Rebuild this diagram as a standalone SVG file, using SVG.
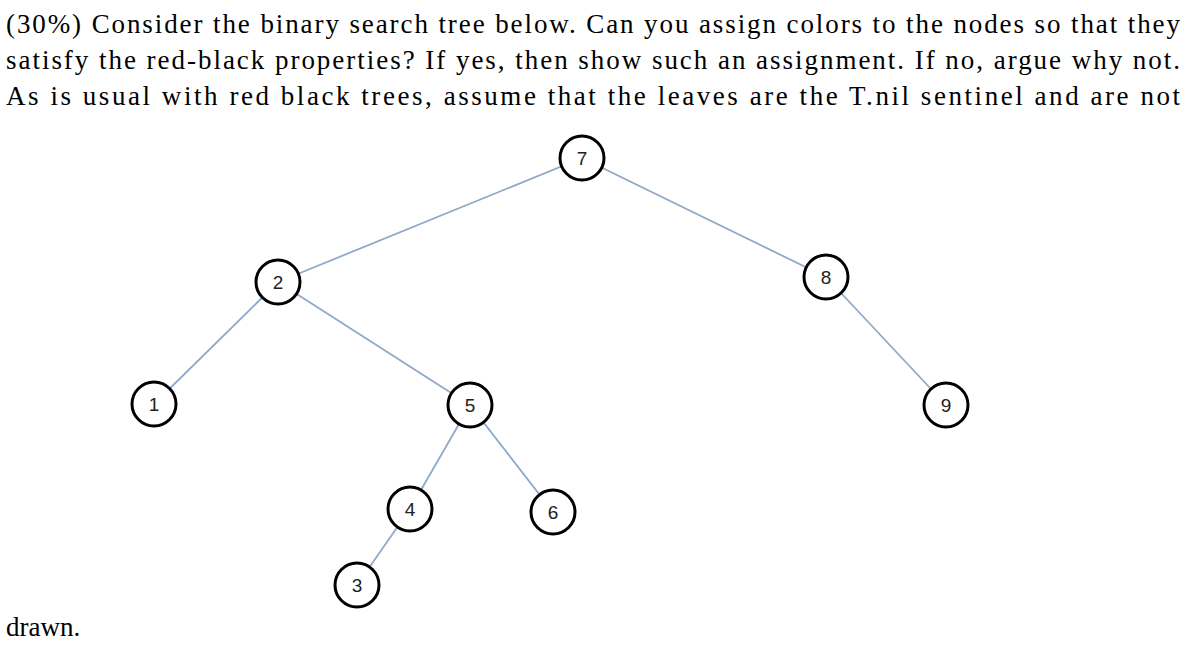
<svg xmlns="http://www.w3.org/2000/svg" width="1204" height="654" viewBox="0 0 1204 654">
<style>
.t{font-family:"Liberation Serif",serif;font-size:27px;fill:#000}
.n circle{fill:#fff;stroke:#000;stroke-width:3}
.n text{font-family:"Liberation Sans",sans-serif;font-size:19px;text-anchor:middle;fill:#222}
.e line{stroke:#8fa9c8;stroke-width:1.8}
</style>
<rect width="1204" height="654" fill="#fff"/>
<text class="t" x="6" y="33" textLength="1174" lengthAdjust="spacing">(30%) Consider the binary search tree below. Can you assign colors to the nodes so that they</text>
<text class="t" x="6" y="69" textLength="1174" lengthAdjust="spacing">satisfy the red-black properties? If yes, then show such an assignment. If no, argue why not.</text>
<text class="t" x="6" y="105" textLength="1174" lengthAdjust="spacing">As is usual with red black trees, assume that the leaves are the T.nil sentinel and are not</text>
<text class="t" x="6" y="636">drawn.</text>
<g id="edges" class="e">
<line x1="582" y1="158" x2="278" y2="282"/>
<line x1="582" y1="158" x2="826" y2="277"/>
<line x1="278" y1="282" x2="154" y2="404"/>
<line x1="278" y1="282" x2="470" y2="405"/>
<line x1="826" y1="277" x2="946" y2="405"/>
<line x1="470" y1="405" x2="410" y2="509"/>
<line x1="470" y1="405" x2="553" y2="512"/>
<line x1="410" y1="509" x2="357" y2="585"/>
</g>
<g id="n7" class="n"><circle cx="582" cy="158" r="22"/><text x="582" y="165">7</text></g>
<g id="n2" class="n"><circle cx="278" cy="282" r="22"/><text x="278" y="289">2</text></g>
<g id="n8" class="n"><circle cx="826" cy="277" r="22"/><text x="826" y="284">8</text></g>
<g id="n1" class="n"><circle cx="154" cy="404" r="22"/><text x="154" y="411">1</text></g>
<g id="n5" class="n"><circle cx="470" cy="405" r="22"/><text x="470" y="412">5</text></g>
<g id="n9" class="n"><circle cx="946" cy="405" r="22"/><text x="946" y="412">9</text></g>
<g id="n4" class="n"><circle cx="410" cy="509" r="22"/><text x="410" y="516">4</text></g>
<g id="n6" class="n"><circle cx="553" cy="512" r="22"/><text x="553" y="519">6</text></g>
<g id="n3" class="n"><circle cx="357" cy="585" r="22"/><text x="357" y="592">3</text></g>
</svg>
